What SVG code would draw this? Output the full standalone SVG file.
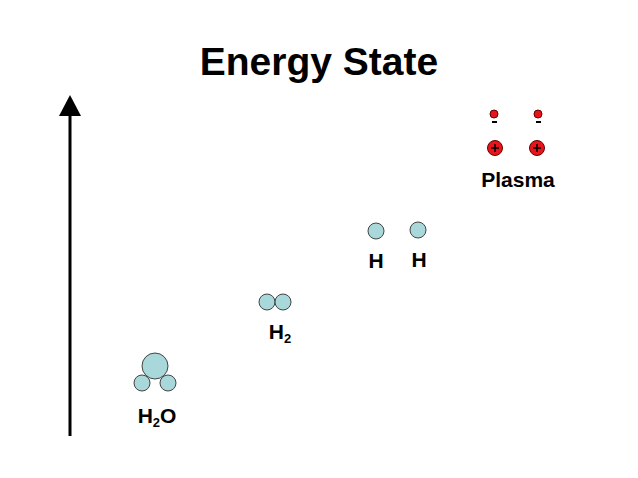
<svg xmlns="http://www.w3.org/2000/svg" width="638" height="478" viewBox="0 0 638 478">
<style>
text{font-family:"Liberation Sans",Arial,sans-serif;font-weight:bold;fill:#000}
.a{fill:#a8d8da;stroke:#444;stroke-width:1}
.p{fill:#e8141b;stroke:#600;stroke-width:1}
.l{font-size:21px;text-anchor:middle}
</style>
<rect width="638" height="478" fill="#fff"/>
<text x="319" y="75" font-size="39" text-anchor="middle">Energy State</text>
<g id="connectors">
<line x1="70" y1="436" x2="70" y2="112" stroke="#000" stroke-width="3"/>
<polygon points="70,95 59,116 81,116" fill="#000"/>
</g>
<g id="h2o">
<circle class="a" cx="155" cy="366" r="13"/>
<circle class="a" cx="142" cy="383" r="8"/>
<circle class="a" cx="168" cy="383" r="8"/>
<text class="l" x="157" y="423">H<tspan font-size="13" dy="4">2</tspan><tspan dy="-4">O</tspan></text>
</g>
<g id="h2">
<circle class="a" cx="267" cy="302" r="8"/>
<circle class="a" cx="283" cy="302" r="8"/>
<text class="l" x="280" y="339">H<tspan font-size="13" dy="4">2</tspan></text>
</g>
<g id="h">
<circle class="a" cx="376" cy="231" r="8"/>
<circle class="a" cx="418" cy="230" r="8"/>
<text class="l" x="376" y="268">H</text>
<text class="l" x="419" y="267">H</text>
</g>
<g id="plasma">
<circle class="p" cx="494" cy="114" r="4"/>
<circle class="p" cx="538" cy="114" r="4"/>
<rect x="492" y="121" width="5" height="2"/>
<rect x="536" y="121" width="5" height="2"/>
<circle class="p" cx="495" cy="148" r="7.5"/>
<circle class="p" cx="537" cy="148" r="7.5"/>
<path d="M491,148h8M495,144v8M533,148h8M537,144v8" stroke="#000" stroke-width="1.5"/>
<text class="l" x="518" y="187">Plasma</text>
</g>
</svg>
